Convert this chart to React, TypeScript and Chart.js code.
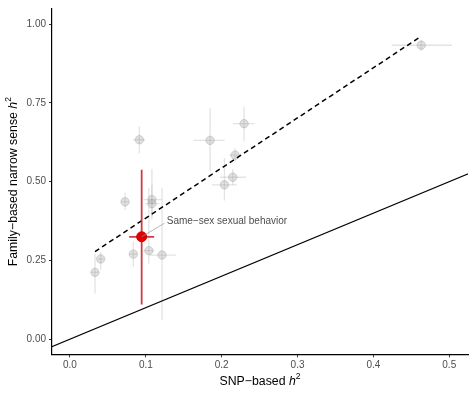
import React, { useEffect, useRef } from "react";
import { Chart, registerables } from "chart.js";

Chart.register(...registerables);

const FONT = "'Liberation Sans', Arial, Helvetica, sans-serif";

// Gray traits: SNP-based h2 (x) vs family-based h2 (y) with error bars
const snpH2 = [0.033, 0.0405, 0.0726, 0.0835, 0.0915, 0.104, 0.108, 0.108, 0.1214, 0.1847, 0.2036, 0.2146, 0.2177, 0.2295, 0.463];
const famH2 = [0.212, 0.2545, 0.436, 0.27, 0.633, 0.281, 0.443, 0.43, 0.267, 0.631, 0.49, 0.514, 0.584, 0.684, 0.933];
const famLo = [0.145, 0.22, 0.41, 0.23, 0.59, 0.24, 0.39, 0.38, 0.06, 0.533, 0.44, 0.49, 0.565, 0.628, 0.915];
const famHi = [0.27, 0.275, 0.465, 0.31, 0.675, 0.48, 0.54, 0.49, 0.48, 0.733, 0.575, 0.54, 0.605, 0.738, 0.95];
const snpLo = [0.028, 0.037, 0.067, 0.078, 0.083, 0.097, 0.097, 0.099, 0.105, 0.163, 0.187, 0.198, 0.21, 0.215, 0.424];
const snpHi = [0.038, 0.044, 0.078, 0.089, 0.099, 0.111, 0.121, 0.118, 0.14, 0.204, 0.22, 0.232, 0.225, 0.243, 0.5035];

// Highlighted trait
const focusName = "Same−sex sexual behavior";
const focusX = [0.0945];
const focusY = [0.325];
const focusYLo = [0.11];
const focusYHi = [0.538];
const focusXLo = [0.078];
const focusXHi = [0.111];
const labelX = 0.1276;
const labelY = 0.373;
const connectorX = 0.1245;
const connectorY = 0.368;

// Lines
const identityX = [-0.1, 0.6];
const fitX = [0.033, 0.4595];
const fitY = [0.278, 0.956];

// Axes
const xTicks = [0, 0.1, 0.2, 0.3, 0.4, 0.5];
const yTicks = [0, 0.25, 0.5, 0.75, 1.0];
const xRange = [-0.0237, 0.5247];
const yRange = [-0.048, 1.048];

type Part = { t: string; italic?: boolean; sup?: boolean };

function drawRich(ctx: CanvasRenderingContext2D, parts: Part[], size: number, cx: number, cy: number) {
  const fontFor = (p: Part) => `${p.italic ? "italic " : ""}${p.sup ? size * 0.7 : size}px ${FONT}`;
  let total = 0;
  for (const p of parts) {
    ctx.font = fontFor(p);
    total += ctx.measureText(p.t).width;
  }
  let x = cx - total / 2;
  ctx.textAlign = "left";
  ctx.textBaseline = "middle";
  for (const p of parts) {
    ctx.font = fontFor(p);
    ctx.fillText(p.t, x, p.sup ? cy - size * 0.4 : cy);
    x += ctx.measureText(p.t).width;
  }
}

const annotPlugin = {
  id: "annot",
  afterDatasetsDraw(chart: any) {
    const ctx: CanvasRenderingContext2D = chart.ctx;
    const xs = chart.scales.x;
    const ys = chart.scales.y;
    const ca = chart.chartArea;
    ctx.save();
    // connector
    ctx.strokeStyle = "#9a9a9a";
    ctx.lineWidth = 0.7;
    ctx.beginPath();
    ctx.moveTo(xs.getPixelForValue(focusX[0]), ys.getPixelForValue(focusY[0]));
    ctx.lineTo(xs.getPixelForValue(connectorX), ys.getPixelForValue(connectorY));
    ctx.stroke();
    // label
    ctx.fillStyle = "#4d4d4d";
    ctx.font = `10px ${FONT}`;
    ctx.textAlign = "left";
    ctx.textBaseline = "middle";
    ctx.fillText(focusName, xs.getPixelForValue(labelX), ys.getPixelForValue(labelY));
    // axis titles
    ctx.fillStyle = "#000";
    drawRich(ctx, [{ t: "SNP−based " }, { t: "h", italic: true }, { t: "2", sup: true }], 12.3, (ca.left + ca.right) / 2, 382);
    ctx.translate(13.5, (ca.top + ca.bottom) / 2);
    ctx.rotate(-Math.PI / 2);
    drawRich(ctx, [{ t: "Family−based narrow sense " }, { t: "h", italic: true }, { t: "2", sup: true }], 12.3, 0, 0);
    ctx.restore();
  },
};

export default function App() {
  const ref = useRef<HTMLCanvasElement | null>(null);
  useEffect(() => {
    if (!ref.current) return;
    const datasets: any[] = [];
    const grayBar = "rgba(175,175,175,0.35)";
    snpH2.forEach((x, i) => {
      datasets.push({
        type: "scatter",
        data: [{ x, y: famLo[i] }, { x, y: famHi[i] }],
        showLine: true,
        borderColor: grayBar,
        borderWidth: 1.3,
        pointRadius: 0,
        order: 10,
      });
      datasets.push({
        type: "scatter",
        data: [{ x: snpLo[i], y: famH2[i] }, { x: snpHi[i], y: famH2[i] }],
        showLine: true,
        borderColor: grayBar,
        borderWidth: 1.3,
        pointRadius: 0,
        order: 10,
      });
    });
    datasets.push({
      type: "scatter",
      data: snpH2.map((x, i) => ({ x, y: famH2[i] })),
      pointRadius: 4.2,
      backgroundColor: "rgba(165,165,165,0.35)",
      borderColor: "rgba(150,150,150,0.35)",
      borderWidth: 1,
      order: 9,
    });
    datasets.push({
      type: "scatter",
      data: identityX.map((v) => ({ x: v, y: v })),
      showLine: true,
      borderColor: "#000",
      borderWidth: 1.3,
      pointRadius: 0,
      order: 8,
    });
    datasets.push({
      type: "scatter",
      data: fitX.map((x, i) => ({ x, y: fitY[i] })),
      showLine: true,
      borderColor: "#000",
      borderWidth: 1.5,
      borderDash: [5, 3.5],
      pointRadius: 0,
      order: 7,
    });
    datasets.push({
      type: "scatter",
      data: [{ x: focusX[0], y: focusYLo[0] }, { x: focusX[0], y: focusYHi[0] }],
      showLine: true,
      borderColor: "rgba(200,40,45,0.9)",
      borderWidth: 1.8,
      pointRadius: 0,
      order: 6,
    });
    datasets.push({
      type: "scatter",
      data: [{ x: focusXLo[0], y: focusY[0] }, { x: focusXHi[0], y: focusY[0] }],
      showLine: true,
      borderColor: "rgba(200,40,45,0.9)",
      borderWidth: 1.8,
      pointRadius: 0,
      order: 6,
    });
    datasets.push({
      type: "scatter",
      data: focusX.map((x, i) => ({ x, y: focusY[i] })),
      pointRadius: 5,
      backgroundColor: "#e00000",
      borderColor: "#d00000",
      borderWidth: 1,
      order: 5,
    });

    const tickFont = { family: FONT, size: 10 };
    const chart = new Chart(ref.current, {
      type: "scatter",
      data: { datasets },
      plugins: [annotPlugin],
      options: {
        animation: false,
        responsive: false,
        devicePixelRatio: 1,
        layout: { padding: { top: 7, right: 6, left: 0, bottom: 0 } },
        plugins: { legend: { display: false }, tooltip: { enabled: false } },
        scales: {
          x: {
            type: "linear",
            min: xRange[0],
            max: xRange[1],
            afterBuildTicks: (s: any) => {
              s.ticks = xTicks.map((v) => ({ value: v }));
            },
            afterFit: (s: any) => {
              s.height = 40.7;
            },
            ticks: {
              callback: (v: any) => Number(v).toFixed(1),
              color: "#4d4d4d",
              font: tickFont,
              padding: 2,
              maxRotation: 0,
              autoSkip: false,
            },
            grid: { display: true, drawOnChartArea: false, drawTicks: true, tickLength: 3, color: "#333", tickWidth: 1 },
            border: { display: true, color: "#000", width: 1.2 },
          },
          y: {
            type: "linear",
            min: yRange[0],
            max: yRange[1],
            afterBuildTicks: (s: any) => {
              s.ticks = yTicks.map((v) => ({ value: v }));
            },
            afterFit: (s: any) => {
              s.width = 52;
            },
            ticks: {
              callback: (v: any) => Number(v).toFixed(2),
              color: "#4d4d4d",
              font: tickFont,
              padding: 3,
              autoSkip: false,
            },
            grid: { display: true, drawOnChartArea: false, drawTicks: true, tickLength: 3, color: "#333", tickWidth: 1 },
            border: { display: true, color: "#000", width: 1.2 },
          },
        },
      } as any,
    });
    return () => chart.destroy();
  }, []);
  return (
    <div style={{ position: "absolute", left: 0, top: 0, width: 474, height: 395, background: "#fff" }}>
      <canvas ref={ref} width={474} height={395} style={{ display: "block", width: 474, height: 395 }} />
    </div>
  );
}
